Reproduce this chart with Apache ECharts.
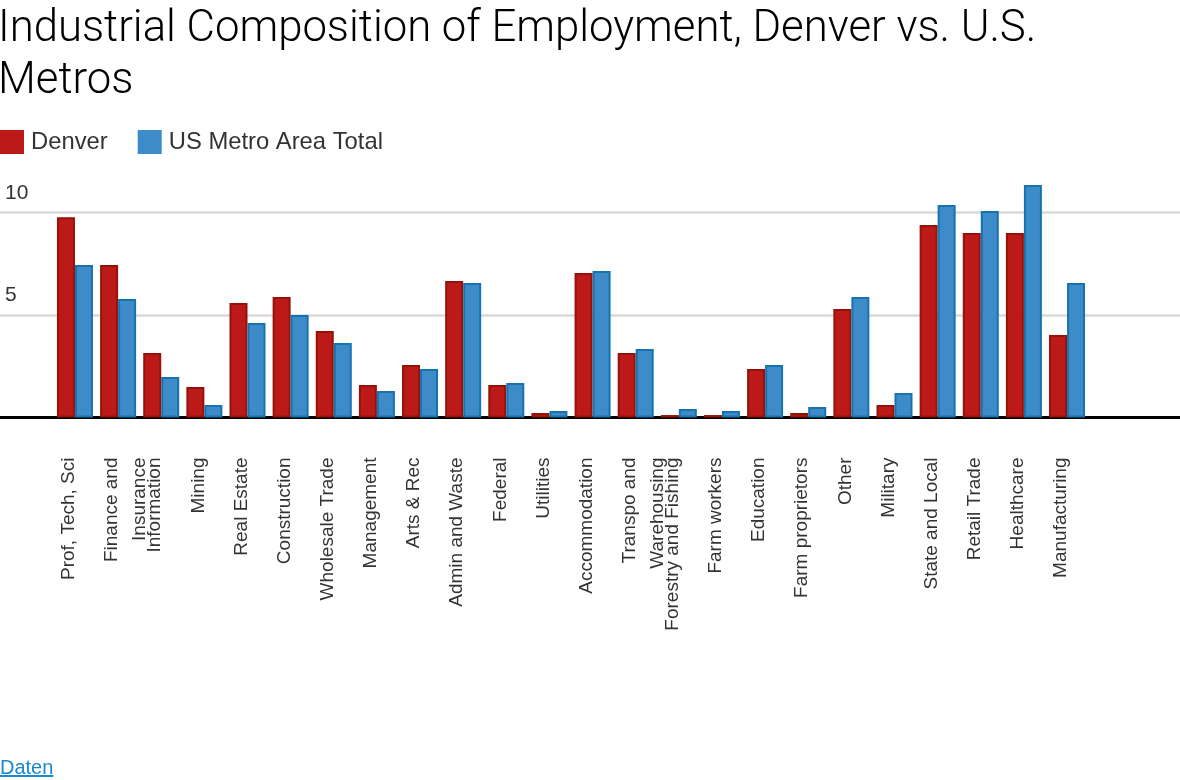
<!DOCTYPE html>
<html>
<head>
<meta charset="utf-8">
<script src="https://cdn.jsdelivr.net/npm/echarts@6/dist/echarts.min.js"></script>
<style>
    html, body { margin: 0; padding: 0; background: #fff; }
    #chart { width: 1180px; height: 780px; }
    #daten { position: absolute; left: 0; top: 756px; font: 20px "Liberation Sans", Arial, sans-serif; color: #1a87cf; text-decoration: underline; }
</style>
</head>
<body>
<div id="chart"></div>
<a id="daten" href="#">Daten</a>
<script>
// Daten
var categories = [
    'Prof, Tech, Sci', 'Finance and Insurance', 'Information', 'Mining', 'Real Estate',
    'Construction', 'Wholesale Trade', 'Management', 'Arts & Rec', 'Admin and Waste',
    'Federal', 'Utilities', 'Accommodation', 'Transpo and Warehousing', 'Forestry and Fishing',
    'Farm workers', 'Education', 'Farm proprietors', 'Other', 'Military',
    'State and Local', 'Retail Trade', 'Healthcare', 'Manufacturing'
];
var denver = [9.77, 7.44, 3.15, 1.49, 5.59, 5.88, 4.22, 1.59, 2.56, 6.66, 1.59, 0.22,
    7.05, 3.15, 0.12, 0.12, 2.37, 0.22, 5.29, 0.61, 9.39, 9.0, 9.0, 4.02];
var usMetro = [7.44, 5.78, 1.98, 0.61, 4.61, 5.0, 3.63, 1.29, 2.37, 6.56, 1.68, 0.32,
    7.15, 3.34, 0.41, 0.32, 2.56, 0.51, 5.88, 1.19, 10.37, 10.07, 11.34, 6.56];
var yTicks = [5, 10];

// lange Labels umbrechen
var wrapped = {
    'Finance and Insurance': ['Finance and', 'Insurance'],
    'Transpo and Warehousing': ['Transpo and', 'Warehousing']
};

var font = '"Liberation Sans", Arial, sans-serif';
var myChart = echarts.init(document.getElementById('chart'));

var option = {
    backgroundColor: '#fff',
    animation: false,
    title: {
        text: 'Industrial Composition of Employment, Denver vs. U.S.\nMetros',
        left: -2, top: 4, padding: 0,
        textStyle: { fontFamily: 'Roboto', fontWeight: 300, fontSize: 43.7, lineHeight: 52, color: '#000' }
    },
    legend: {
        left: 0, top: 130, padding: 0,
        itemWidth: 24, itemHeight: 24, itemGap: 30,
        icon: 'rect',
        data: [
            { name: 'Denver', itemStyle: { borderWidth: 0 } },
            { name: 'US Metro Area Total', itemStyle: { borderWidth: 0 } }
        ],
        formatter: function (n) { return '{t|' + n + '}'; },
        textStyle: {
            fontFamily: font, fontSize: 23.8, color: '#333',
            rich: { t: { fontFamily: font, fontSize: 23.8, color: '#333', padding: [0, 0, 0, 2] } }
        }
    },
    grid: [
        // grid 0: nur Gitterlinien + Grundlinie, volle Breite
        { left: 0, right: 0, top: 212.5, bottom: 362.5 },
        // grid 1: Balken
        { left: 53.4, right: 91.4, top: 171.5, bottom: 362.5 }
    ],
    xAxis: [
        {
            gridIndex: 0, type: 'value', min: 0, max: 1,
            axisLabel: { show: false }, axisTick: { show: false }, splitLine: { show: false },
            axisLine: { show: true, lineStyle: { color: '#000', width: 3 } }
        },
        {
            gridIndex: 1, type: 'category', data: categories,
            axisLine: { show: false }, axisTick: { show: false },
            axisLabel: {
                interval: 0, rotate: 90, margin: 40,
                fontFamily: font, fontSize: 19, color: '#333',
                formatter: function (v) {
                    if (wrapped[v]) return '{w1|' + wrapped[v][0] + '}\n{w2|' + wrapped[v][1] + '}';
                    return '{s|' + v + '}';
                },
                rich: {
                    s: { fontFamily: font, fontSize: 19, color: '#333', lineHeight: 22, padding: [0, 0, 12, 0] },
                    w1: { fontFamily: font, fontSize: 19, color: '#333', lineHeight: 44, padding: [16, 0, 0, 0] },
                    w2: { fontFamily: font, fontSize: 19, color: '#333', lineHeight: 28 }
                }
            }
        }
    ],
    yAxis: [
        {
            gridIndex: 0, type: 'value', min: 0, max: 10, interval: 5,
            axisLine: { show: false }, axisTick: { show: false },
            splitLine: { show: true, lineStyle: { color: '#d9d9d9', width: 2.5 } },
            axisLabel: {
                inside: true, margin: 5, align: 'left', verticalAlign: 'bottom',
                fontFamily: font, fontSize: 21, color: '#333',
                formatter: function (v) { return yTicks.indexOf(v) >= 0 ? '{y|' + v + '}' : ''; },
                rich: { y: { fontFamily: font, fontSize: 21, color: '#333', padding: [0, 0, 9, 0] } }
            }
        },
        {
            gridIndex: 1, type: 'value', min: 0, max: 12, show: false,
            splitLine: { show: false }
        }
    ],
    series: [
        {
            name: 'Denver', type: 'bar', xAxisIndex: 1, yAxisIndex: 1,
            data: denver, barWidth: 18, barGap: '0%',
            itemStyle: { color: '#bc1a18', borderColor: '#961208', borderWidth: 2 }
        },
        {
            name: 'US Metro Area Total', type: 'bar', xAxisIndex: 1, yAxisIndex: 1,
            data: usMetro, barWidth: 18, barGap: '0%',
            itemStyle: { color: '#3e8bc9', borderColor: '#1673af', borderWidth: 2 }
        }
    ]
};

myChart.setOption(option);
window.addEventListener('resize', function () {
    myChart.resize();
});
</script>
</body>
</html>
